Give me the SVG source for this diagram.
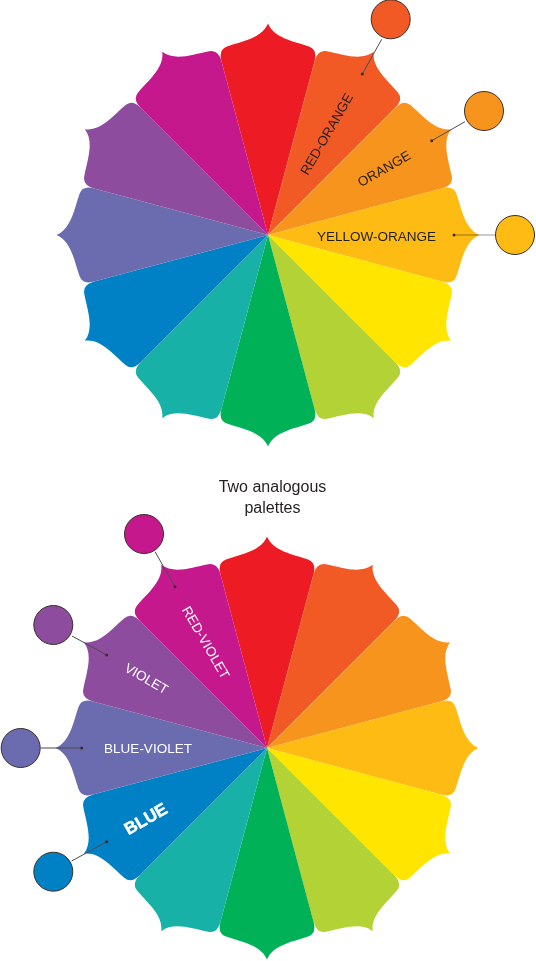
<svg xmlns="http://www.w3.org/2000/svg" xmlns:xlink="http://www.w3.org/1999/xlink" width="536" height="961" viewBox="0 0 536 961">
<style>
.lbl{font-family:"Liberation Sans",Arial,Helvetica,sans-serif;font-size:13.5px;text-anchor:middle}
.dark{fill:#231F20}
.light{fill:#FFFFFF}
.bold{font-weight:bold;font-size:17px;stroke:#FFFFFF;stroke-width:0.5}
.title{font-family:"Liberation Sans",Arial,Helvetica,sans-serif;font-size:16px;fill:#231F20;text-anchor:middle}
.sw{stroke:#3A2E2A;stroke-width:1}
.ptr{stroke:#4D4D4F;stroke-width:1;fill:none}
.dot{fill:#3A2E2A}
</style>
<defs>
<path id="wedge" d="M0,0 L46.6,-173.9 Q49.7,-185.5 41,-188.5 C25,-194 6,-197 0,-211.5 C-6,-197 -25,-194 -41,-188.5 Q-49.7,-185.5 -46.6,-173.9 Z"/>
</defs>

<g id="wheel-top" transform="translate(268,235)">
<g id="t-red"><use xlink:href="#wedge" href="#wedge" fill="#ED1C24" transform="rotate(0)"/></g>
<g id="t-red-orange"><use xlink:href="#wedge" href="#wedge" fill="#F15A24" transform="rotate(30)"/></g>
<g id="t-orange"><use xlink:href="#wedge" href="#wedge" fill="#F7941D" transform="rotate(60)"/></g>
<g id="t-yellow-orange"><use xlink:href="#wedge" href="#wedge" fill="#FDBB14" transform="rotate(90)"/></g>
<g id="t-yellow"><use xlink:href="#wedge" href="#wedge" fill="#FFE500" transform="rotate(120)"/></g>
<g id="t-yellow-green"><use xlink:href="#wedge" href="#wedge" fill="#B3D236" transform="rotate(150)"/></g>
<g id="t-green"><use xlink:href="#wedge" href="#wedge" fill="#00B157" transform="rotate(180)"/></g>
<g id="t-blue-green"><use xlink:href="#wedge" href="#wedge" fill="#18B1A7" transform="rotate(210)"/></g>
<g id="t-blue"><use xlink:href="#wedge" href="#wedge" fill="#0081C6" transform="rotate(240)"/></g>
<g id="t-blue-violet"><use xlink:href="#wedge" href="#wedge" fill="#6B6BB0" transform="rotate(270)"/></g>
<g id="t-violet"><use xlink:href="#wedge" href="#wedge" fill="#8D4C9E" transform="rotate(300)"/></g>
<g id="t-red-violet"><use xlink:href="#wedge" href="#wedge" fill="#C4188C" transform="rotate(330)"/></g>
</g>

<g id="labels-top">
<text class="lbl dark" transform="translate(326.5,134) rotate(-60)" dy="0.36em">RED-ORANGE</text>
<text class="lbl dark" transform="translate(384,168.5) rotate(-30)" dy="0.36em">ORANGE</text>
<text class="lbl dark" transform="translate(376.5,236)" dy="0.36em">YELLOW-ORANGE</text>
</g>

<g id="title">
<text class="title" x="272.5" y="492">Two analogous</text>
<text class="title" x="272.5" y="513">palettes</text>
</g>

<g id="wheel-bottom" transform="translate(267,748)">
<g id="b-red"><use xlink:href="#wedge" href="#wedge" fill="#ED1C24" transform="rotate(0)"/></g>
<g id="b-red-orange"><use xlink:href="#wedge" href="#wedge" fill="#F15A24" transform="rotate(30)"/></g>
<g id="b-orange"><use xlink:href="#wedge" href="#wedge" fill="#F7941D" transform="rotate(60)"/></g>
<g id="b-yellow-orange"><use xlink:href="#wedge" href="#wedge" fill="#FDBB14" transform="rotate(90)"/></g>
<g id="b-yellow"><use xlink:href="#wedge" href="#wedge" fill="#FFE500" transform="rotate(120)"/></g>
<g id="b-yellow-green"><use xlink:href="#wedge" href="#wedge" fill="#B3D236" transform="rotate(150)"/></g>
<g id="b-green"><use xlink:href="#wedge" href="#wedge" fill="#00B157" transform="rotate(180)"/></g>
<g id="b-blue-green"><use xlink:href="#wedge" href="#wedge" fill="#18B1A7" transform="rotate(210)"/></g>
<g id="b-blue"><use xlink:href="#wedge" href="#wedge" fill="#0081C6" transform="rotate(240)"/></g>
<g id="b-blue-violet"><use xlink:href="#wedge" href="#wedge" fill="#6B6BB0" transform="rotate(270)"/></g>
<g id="b-violet"><use xlink:href="#wedge" href="#wedge" fill="#8D4C9E" transform="rotate(300)"/></g>
<g id="b-red-violet"><use xlink:href="#wedge" href="#wedge" fill="#C4188C" transform="rotate(330)"/></g>
</g>

<g id="labels-bottom">
<text class="lbl light" transform="translate(206,642.3) rotate(60)" dy="0.36em">RED-VIOLET</text>
<text class="lbl light" transform="translate(146.6,678.5) rotate(30)" dy="0.36em">VIOLET</text>
<text class="lbl light" transform="translate(148,748)" dy="0.36em">BLUE-VIOLET</text>
<text class="lbl light bold" transform="translate(145.5,818.5) rotate(-30)" dy="0.36em">BLUE</text>
</g>

<g id="connectors">
<line class="ptr" x1="381.7" y1="39.3" x2="362.3" y2="74"/>
<line class="ptr" x1="465" y1="121.7" x2="431.7" y2="140.7"/>
<line x1="495" y1="235" x2="454" y2="235" stroke="#9A9A9A" stroke-width="1.2" style="mix-blend-mode:multiply"/>
<line class="ptr" x1="155" y1="551.7" x2="175" y2="586.7"/>
<line class="ptr" x1="72" y1="636" x2="106.7" y2="655"/>
<line class="ptr" x1="41" y1="748" x2="81.7" y2="748"/>
<line class="ptr" x1="71.7" y1="861" x2="106.7" y2="841.7"/>
<circle class="dot" cx="362.3" cy="74" r="1.5"/>
<circle class="dot" cx="431.7" cy="140.7" r="1.5"/>
<circle class="dot" cx="454" cy="235" r="1.5"/>
<circle class="dot" cx="175" cy="586.7" r="1.5"/>
<circle class="dot" cx="106.7" cy="655" r="1.5"/>
<circle class="dot" cx="81.7" cy="748" r="1.5"/>
<circle class="dot" cx="106.7" cy="841.7" r="1.5"/>
</g>

<g id="swatch-red-orange"><circle class="sw" cx="390.7" cy="19.3" r="19.5" fill="#F15A24"/></g>
<g id="swatch-orange"><circle class="sw" cx="484" cy="111" r="19.5" fill="#F7941D"/></g>
<g id="swatch-yellow-orange"><circle class="sw" cx="515" cy="235" r="19.5" fill="#FDBB14"/></g>
<g id="swatch-red-violet"><circle class="sw" cx="144" cy="534" r="19.5" fill="#C4188C"/></g>
<g id="swatch-violet"><circle class="sw" cx="53.3" cy="625" r="19.5" fill="#8D4C9E"/></g>
<g id="swatch-blue-violet"><circle class="sw" cx="20.7" cy="748" r="19.5" fill="#6B6BB0"/></g>
<g id="swatch-blue"><circle class="sw" cx="53.3" cy="871.7" r="19.5" fill="#0081C6"/></g>
</svg>
